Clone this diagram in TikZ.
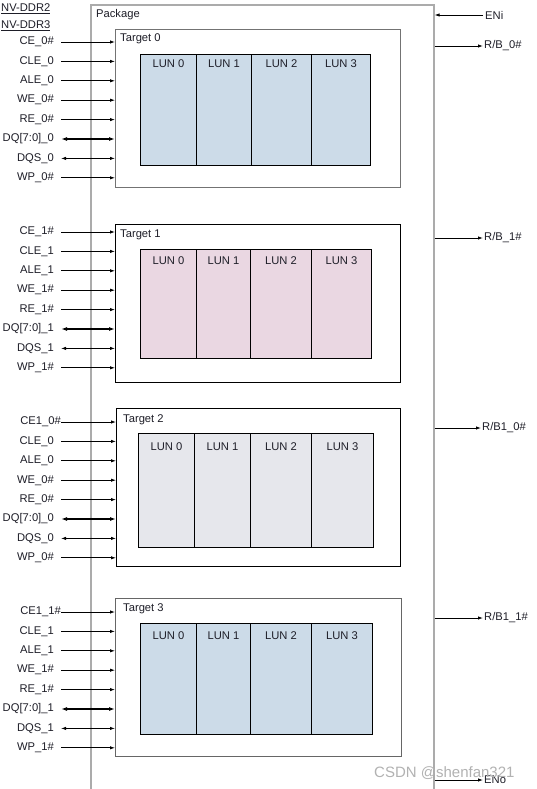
\documentclass[tikz,border=0pt]{standalone}
\usepackage{fontspec}
\setmainfont{Liberation Sans}
\usetikzlibrary{arrows.meta}
\definecolor{pkggray}{HTML}{ABABAB}
\definecolor{lunblue}{HTML}{CCDBE8}
\definecolor{lunpink}{HTML}{EAD7E2}
\definecolor{lungray}{HTML}{E6E7EC}
\definecolor{txt}{HTML}{1E1E28}
\tikzset{
  lbl/.style={font=\fontsize{11.2}{13}\selectfont, text=txt, inner sep=0pt},
  tipA/.tip={Latex[length=5pt,width=3.4pt]},
  sig/.style={line width=0.8pt, black, -tipA},
  sigbi/.style={line width=0.8pt, black, tipA-tipA},
  sigbus/.style={line width=1.8pt, black, {Latex[length=6pt,width=4pt]}-{Latex[length=6pt,width=4pt]}},
  pkgbox/.style={draw=pkggray, line width=1.6pt, inner sep=0pt},
  targetbox/.style={line width=0.9pt, fill=white, inner sep=0pt},
  lunbox/.style={draw=black, line width=1pt, inner sep=0pt},
}
\begin{document}
\begin{tikzpicture}[x=1pt,y=-1pt]
\useasboundingbox (0,0) rectangle (536,789);
\fill[white] (0,0) rectangle (536,789);
% package
\node[pkgbox, anchor=north west, minimum width=343pt, minimum height=830pt] (pkg) at (90,4) {};
\node[lbl, anchor=west] (pkglbl) at (96,15) {Package};
% header
\node[lbl, anchor=west] (nv2) at (1,9) {\underline{NV-DDR2}};
\node[lbl, anchor=west] (nv3) at (1,26) {\underline{NV-DDR3}};
% targets
\foreach \i/\bx/\by/\bX/\bY/\lx/\ly/\lX/\lY/\da/\db/\dc/\col/\tly/\tlx/\lunoff/\sy/\cex/\cepre/\sfx/\bcol in {
  0/115/29/400/187/140/54/370/165/196/251/311/lunblue/39/120/10/42/54/CE/0/black!55,
  1/115/224/400/382/140/249/371/358/196/250/311/lunpink/235/120/12/232/54/CE/1/black,
  2/116/408/400/566/138/433/373/547/194/250/311/lungray/420/123/14/422/61/CE1/0/black,
  3/115/598/401/756/140/623/372/734/196/250/311/lunblue/609/123/13/612/61/CE1/1/black!60}
{
  \node[targetbox, draw=\bcol, anchor=north west,
        minimum width={(\bX-\bx)*1pt}, minimum height={(\bY-\by)*1pt}] (t\i) at (\bx,\by) {};
  \node[lbl, anchor=west] (t\i lbl) at (\tlx,\tly) {Target \i};
  \node[lunbox, fill=\col, anchor=north west,
        minimum width={(\da-\lx)*1pt}, minimum height={(\lY-\ly)*1pt}] (t\i lun0) at (\lx,\ly) {};
  \node[lunbox, fill=\col, anchor=north west,
        minimum width={(\db-\da)*1pt}, minimum height={(\lY-\ly)*1pt}] (t\i lun1) at (\da,\ly) {};
  \node[lunbox, fill=\col, anchor=north west,
        minimum width={(\dc-\db)*1pt}, minimum height={(\lY-\ly)*1pt}] (t\i lun2) at (\db,\ly) {};
  \node[lunbox, fill=\col, anchor=north west,
        minimum width={(\lX-\dc)*1pt}, minimum height={(\lY-\ly)*1pt}] (t\i lun3) at (\dc,\ly) {};
  \foreach \j in {0,...,3}
    \node[lbl] (t\i lab\j) at ([yshift={-\lunoff*1pt}]t\i lun\j.north) {LUN \j};
  \foreach \k/\nm/\st in {0/{\cepre\_\sfx\#}/sig, 1/{CLE\_\sfx}/sig, 2/{ALE\_\sfx}/sig,
      3/{WE\_\sfx\#}/sig, 4/{RE\_\sfx\#}/sig, 5/{DQ[7:0]\_\sfx}/sigbus,
      6/{DQS\_\sfx}/sigbi, 7/{WP\_\sfx\#}/sig}
  {
    \pgfmathsetmacro\yy{\sy+\k*19.4}
    \pgfmathsetmacro\lxx{\k==0 ? \cex : 54}
    \coordinate (t\i s\k) at (61,\yy);
    \draw[\st] (t\i s\k) -- (t\i s\k -| t\i.west);
    \node[lbl, anchor=east] (t\i sl\k) at (\lxx,\yy) {\nm};
  }
}
% right side signals
\node[lbl, anchor=west] (eni) at (485,15) {ENi};
\draw[sig] ([xshift=-2pt]eni.west) -- (eni.west -| pkg.east);
\node[lbl, anchor=west] (rb0) at (484,46) {R/B\_0\#};
\draw[sig] (rb0.west -| pkg.east) -- ([xshift=-1pt]rb0.west);
\node[lbl, anchor=west] (rb1) at (484,238) {R/B\_1\#};
\draw[sig] (rb1.west -| pkg.east) -- ([xshift=-1pt]rb1.west);
\node[lbl, anchor=west] (rb2) at (482,428) {R/B1\_0\#};
\draw[sig] (rb2.west -| pkg.east) -- ([xshift=-1pt]rb2.west);
\node[lbl, anchor=west] (rb3) at (484,618) {R/B1\_1\#};
\draw[sig] (rb3.west -| pkg.east) -- ([xshift=-1pt]rb3.west);
\node[lbl, anchor=west] (eno) at (484,780) {ENo};
\draw[sig] (eno.west -| pkg.east) -- ([xshift=-1pt]eno.west);
% watermark
\node[font=\fontsize{15}{18}\selectfont, text=black!30, inner sep=0pt, anchor=west] (wm) at (374,773) {CSDN @shenfan321};
\end{tikzpicture}
\end{document}
